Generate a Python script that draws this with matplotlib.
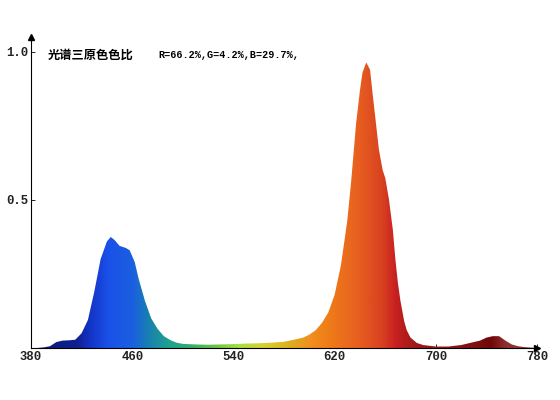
import numpy as np
import matplotlib
matplotlib.use("Agg")
import matplotlib.pyplot as plt
from matplotlib.colors import LinearSegmentedColormap

# spectrum (nm, relative intensity)
wavelength = [380, 385, 390, 395, 400, 405, 410, 415, 420, 425, 430, 435, 440, 443,
              446, 450, 455, 458, 462, 465, 470, 475, 480, 485, 490, 495, 500, 510,
              520, 530, 540, 550, 560, 570, 580, 590, 595, 600, 605, 610, 615, 620,
              625, 630, 633, 637, 640, 642, 645, 648, 650, 655, 658, 660, 663, 666,
              668, 670, 672, 675, 677, 680, 685, 690, 700, 710, 720, 730, 735, 740,
              745, 750, 755, 760, 765, 770, 780]
intensity = [0.0, 0.0, 0.002, 0.006, 0.02, 0.025, 0.026, 0.028, 0.05, 0.095, 0.19, 0.30,
             0.36, 0.375, 0.365, 0.345, 0.338, 0.33, 0.29, 0.235, 0.16, 0.10, 0.065,
             0.04, 0.027, 0.018, 0.014, 0.012, 0.011, 0.012, 0.013, 0.015, 0.016, 0.018,
             0.021, 0.03, 0.035, 0.045, 0.06, 0.085, 0.12, 0.18, 0.28, 0.43, 0.56, 0.76,
             0.87, 0.93, 0.965, 0.94, 0.86, 0.67, 0.60, 0.575, 0.50, 0.40, 0.30, 0.22,
             0.16, 0.09, 0.06, 0.035, 0.017, 0.01, 0.005, 0.005, 0.01, 0.02, 0.025,
             0.035, 0.04, 0.04, 0.025, 0.012, 0.006, 0.003, 0.0]

x_ticks = [380, 460, 540, 620, 700, 780]
y_ticks = [0.5, 1.0]
title_cn = "光谱三原色色比"
title_rgb = "R=66.2%,G=4.2%,B=29.7%,"

# colour of the light at each wavelength
spec_colors = [
    (0.00, "#0a1a78"), (0.09, "#102090"), (0.11, "#1230c0"), (0.15, "#1a50e8"),
    (0.20, "#1a60e0"), (0.23, "#1880b0"), (0.27, "#20a090"), (0.315, "#30b070"),
    (0.37, "#70c840"), (0.41, "#a8e040"), (0.46, "#d8d030"), (0.51, "#dcb020"),
    (0.55, "#f09020"), (0.58, "#f08018"), (0.645, "#e86020"), (0.695, "#d84020"),
    (0.72, "#c82020"), (0.76, "#a01818"), (0.875, "#801010"), (0.91, "#700808"),
    (0.94, "#903030"), (1.00, "#903030"),
]
cmap = LinearSegmentedColormap.from_list("spec", spec_colors)

fig = plt.figure(figsize=(5.6, 4.0), dpi=100)
ax = fig.add_axes([0.0554, 0.13, 0.9036, 0.777])

poly = ax.fill_between(wavelength, intensity, 0, color="none", lw=0)
grad = np.linspace(0, 1, 800).reshape(1, -1)
img = ax.imshow(grad, cmap=cmap, aspect="auto", extent=[380, 780, 0, 1.0],
                origin="lower", zorder=2)
clip = poly.get_paths()[0]
img.set_clip_path(clip, transform=ax.transData)

ax.set_xlim(380, 780)
ax.set_ylim(0, 1.05)
for s in ["top", "right"]:
    ax.spines[s].set_visible(False)
ax.spines["left"].set_linewidth(0.8)
ax.spines["bottom"].set_linewidth(0.8)
ax.plot(1, 0, ">k", ms=4, transform=ax.transAxes, clip_on=False)
ax.plot(0, 1, "^k", ms=4, transform=ax.transAxes, clip_on=False)

mono = {"family": "Liberation Mono", "weight": "bold", "size": 8.8}
ax.set_xticks(x_ticks)
ax.set_xticklabels([str(v) for v in x_ticks], fontdict=mono, color="#222222")
ax.set_yticks(y_ticks)
ax.set_yticklabels(["%.1f" % v for v in y_ticks], fontdict=mono, color="#222222")
ax.tick_params(direction="in", length=3, width=0.6, pad=2)

ax.text(393.5, 0.99, title_cn, family=["Noto Sans CJK SC", "DejaVu Sans"],
        weight="bold", size=8.8, va="center", ha="left")
ax.text(481, 0.99, title_rgb, family="Liberation Mono", weight="bold",
        size=7.3, va="center", ha="left")

fig.savefig("out.png", dpi=100)
